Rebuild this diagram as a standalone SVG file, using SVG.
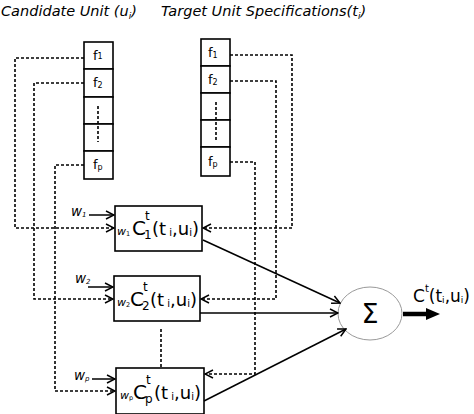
<svg xmlns="http://www.w3.org/2000/svg" width="474" height="414" viewBox="0 0 474 414">
<style>
text{font-family:"DejaVu Sans",sans-serif;fill:#000}
.title{font-size:14.5px;font-style:italic}
.cell{fill:#fff;stroke:#000;stroke-width:1.6}
.box{fill:#fff;stroke:#000;stroke-width:1.6}
.fl{font-size:13px}
.fs{font-size:8px}
.dot{fill:none;stroke:#000;stroke-width:1.6;stroke-dasharray:3 2}
.sol{fill:none;stroke:#000;stroke-width:1.5}
.wo{font-size:13.5px;font-style:italic}
.wos{font-size:7px}
.wi{font-size:11px;font-style:italic}
.wis{font-size:6.5px}
.big{font-size:20px}
.ss{font-size:12px}
.par{font-size:18px}
.sm{font-size:10px}
</style>
<defs>
<marker id="ah" markerWidth="10" markerHeight="10" refX="9" refY="5" orient="auto" markerUnits="userSpaceOnUse">
<path d="M1,1 L9,5 L1,9" fill="none" stroke="#000" stroke-width="1.5"/>
</marker>
</defs>

<text class="title" x="1" y="16">Candidate Unit (u<tspan font-size="9" dy="3">i</tspan><tspan dy="-3">)</tspan></text>
<text class="title" x="161" y="16">Target Unit Specifications(t<tspan font-size="9" dy="3">i</tspan><tspan dy="-3">)</tspan></text>

<g id="candidate">
<rect class="cell" x="84" y="42" width="29" height="27"/>
<rect class="cell" x="84" y="69" width="29" height="28"/>
<rect class="cell" x="84" y="97" width="29" height="27"/>
<rect class="cell" x="84" y="124" width="29" height="27"/>
<rect class="cell" x="84" y="151" width="29" height="28"/>
<text class="fl" x="93" y="60">f<tspan class="fs" dy="-1">1</tspan></text>
<text class="fl" x="93" y="87">f<tspan class="fs" dy="1">2</tspan></text>
<text class="fl" x="93" y="169">f<tspan class="fs" dy="1">p</tspan></text>
<line class="dot" x1="98" y1="106" x2="98" y2="142"/>
</g>

<g id="target">
<rect class="cell" x="201" y="39" width="29" height="27"/>
<rect class="cell" x="201" y="66" width="29" height="27"/>
<rect class="cell" x="201" y="93" width="29" height="27"/>
<rect class="cell" x="201" y="120" width="29" height="27"/>
<rect class="cell" x="201" y="147" width="29" height="29"/>
<text class="fl" x="208" y="57">f<tspan class="fs" dy="1">1</tspan></text>
<text class="fl" x="208" y="84">f<tspan class="fs" dy="1">2</tspan></text>
<text class="fl" x="208" y="166">f<tspan class="fs" dy="1">p</tspan></text>
<line class="dot" x1="216" y1="102" x2="216" y2="140"/>
</g>

<g id="box1">
<rect class="box" x="115" y="206" width="87" height="45"/>
<text y="235"><tspan class="wi" x="117">w</tspan><tspan class="wis" dy="1">1</tspan><tspan class="big" x="132" dy="-1">C</tspan><tspan class="ss" x="145" y="220">t</tspan><tspan class="ss" x="144" y="239">1</tspan><tspan class="par" x="152" y="235">(t</tspan><tspan class="sm" dy="1"> i</tspan><tspan class="par" dy="-1">,u</tspan><tspan class="sm" dy="1">i</tspan><tspan class="par" dy="-1">)</tspan></text>
</g>

<g id="box2">
<rect class="box" x="114" y="276" width="86" height="45"/>
<text y="306"><tspan class="wi" x="117">w</tspan><tspan class="wis" dy="1">2</tspan><tspan class="big" x="130" dy="-1">C</tspan><tspan class="ss" x="143" y="291">t</tspan><tspan class="ss" x="142" y="310">2</tspan><tspan class="par" x="150" y="306">(t</tspan><tspan class="sm" dy="1"> i</tspan><tspan class="par" dy="-1">,u</tspan><tspan class="sm" dy="1">i</tspan><tspan class="par" dy="-1">)</tspan></text>
</g>

<g id="boxp">
<rect class="box" x="116" y="368" width="88" height="46"/>
<text y="399"><tspan class="wi" x="120">w</tspan><tspan class="wis" dy="1">p</tspan><tspan class="big" x="133" dy="-1">C</tspan><tspan class="ss" x="146" y="384">t</tspan><tspan class="ss" x="145" y="403">p</tspan><tspan class="par" x="154" y="399">(t</tspan><tspan class="sm" dy="1"> i</tspan><tspan class="par" dy="-1">,u</tspan><tspan class="sm" dy="1">i</tspan><tspan class="par" dy="-1">)</tspan></text>
</g>

<g id="sum">
<ellipse cx="370" cy="313.5" rx="32" ry="26.5" fill="#fff" stroke="#999" stroke-width="1"/>
<text x="370" y="323" font-size="27" text-anchor="middle">Σ</text>
</g>

<g id="weights">
<text class="wo" x="71" y="216">w<tspan class="wos" dy="1">1</tspan></text>
<text class="wo" x="75" y="283">w<tspan class="wos" dy="1">2</tspan></text>
<text class="wo" x="74" y="380">w<tspan class="wos" dy="1">p</tspan></text>
</g>

<g id="output">
<text x="413" y="302"><tspan font-size="17">C</tspan><tspan font-size="10" dy="-10">t</tspan><tspan font-size="17" dy="10">(t</tspan><tspan font-size="9" dy="1">i</tspan><tspan font-size="17" dy="-1">,u</tspan><tspan font-size="9" dy="1">i</tspan><tspan font-size="17" dy="-1">)</tspan></text>
</g>

<g id="connectors">
<path class="dot" d="M84,58 H15 V228 H114" marker-end="url(#ah)"/>
<path class="dot" d="M84,83 H34 V299 H113" marker-end="url(#ah)"/>
<path class="dot" d="M84,165 H55 V391 H115" marker-end="url(#ah)"/>
<path class="dot" d="M230,55 H292 V228 H203" marker-end="url(#ah)"/>
<path class="dot" d="M230,81 H276 V299 H201" marker-end="url(#ah)"/>
<path class="dot" d="M230,162 H255 V374 H205" marker-end="url(#ah)"/>
<line class="dot" x1="161" y1="329" x2="161" y2="367"/>
<line class="sol" x1="89" y1="215" x2="114" y2="215" marker-end="url(#ah)"/>
<line class="sol" x1="88" y1="287" x2="113" y2="287" marker-end="url(#ah)"/>
<line class="sol" x1="92" y1="379" x2="115" y2="379" marker-end="url(#ah)"/>
<line class="sol" x1="203" y1="240" x2="340" y2="303" marker-end="url(#ah)"/>
<line class="sol" x1="200" y1="313" x2="338" y2="313" marker-end="url(#ah)"/>
<line class="sol" x1="204" y1="401" x2="346" y2="329" marker-end="url(#ah)"/>
<line x1="403" y1="314" x2="429" y2="314" stroke="#000" stroke-width="4.5"/>
<polygon points="426,308 440,314 426,320" fill="#000"/>
</g>
</svg>
